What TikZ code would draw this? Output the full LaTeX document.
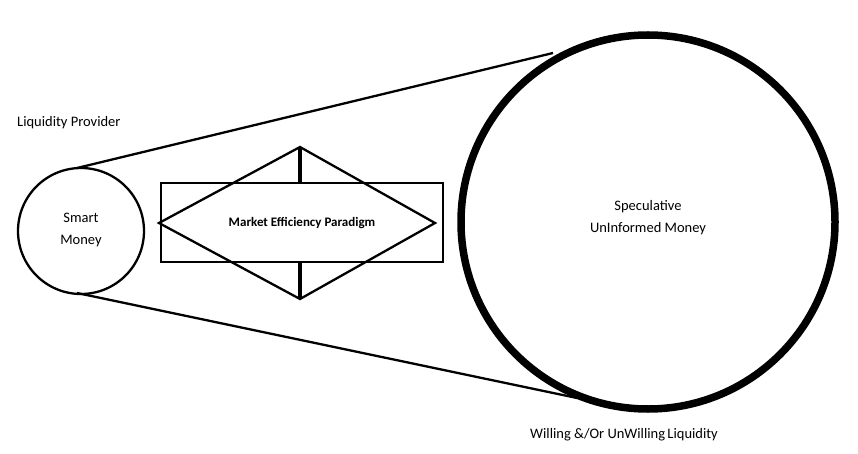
\documentclass[tikz,border=0pt]{standalone}
\usepackage{fontspec}
\setmainfont{Carlito}
\begin{document}
\begin{tikzpicture}[x=1pt,y=-1pt,
  lbl/.style={font=\fontsize{14.5}{22}\selectfont, align=center},
  thin/.style={line width=2.3pt}]
\useasboundingbox[fill=white] (0,0) rectangle (858,454);
\node[circle, draw, thin, minimum size=126pt, inner sep=0pt] (sm) at (81,231) {};
\node[circle, draw, line width=7.5pt, minimum size=374pt, inner sep=0pt] (big) at (648,222) {};
\node[lbl] (smt) at (81,230) {Smart\\Money};
\node[lbl] (spec) at (648,218) {Speculative\\UnInformed Money};
\node[lbl, anchor=base west, inner sep=0pt] (lp) at (17,127) {Liquidity Provider};
\node[lbl, anchor=base west, inner sep=0pt] (wl) at (530,438) {Willing \&/Or UnWilling\,Liquidity};
\coordinate (t1) at (77,168); \coordinate (t2) at (553,53);
\coordinate (b1) at (77,293); \coordinate (b2) at (577,398);
\draw[thin] (t1) -- (t2);
\draw[thin] (b1) -- (b2);
\draw[thin] (161,183) rectangle (443,262);
\coordinate (dl) at (159,223); \coordinate (dr) at (435,223);
\coordinate (dt) at (300,147); \coordinate (db) at (300,299);
\draw[thin] (dl) -- (dt) -- (dr) -- (db) -- cycle;
\draw[line width=4.5pt] (dt) -- (300,183);
\draw[line width=4.5pt] (300,262) -- (db);
\node[font=\bfseries\fontsize{13}{15}\selectfont] (mep) at (302,223) {Market Efficiency Paradigm};
\end{tikzpicture}
\end{document}
